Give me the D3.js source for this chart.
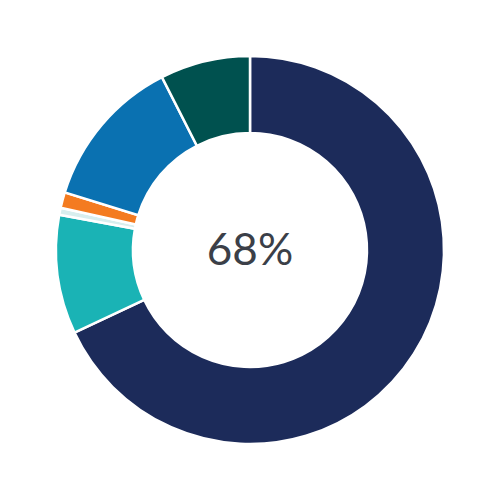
<!DOCTYPE html>
<html><head><meta charset="utf-8">
<script src="https://cdn.jsdelivr.net/npm/d3@7"></script>
<style>body{margin:0;background:#fff}</style></head>
<body><svg id="c" width="500" height="500"></svg>
<script>
const categories = ["A","B","C","D","E","F"];
const values = [68, 9.9, 0.6, 1.3, 12.7, 7.5];
const colors = ["#1c2b5a","#1ab3b5","#d8eeee","#f47b20","#0a71b1","#00514f"];
const centerLabel = "68%";
const svg = d3.select("#c");
const g = svg.append("g").attr("transform","translate(250,250)");
const pie = d3.pie().sort(null).value(d=>d.v);
const arc = d3.arc().innerRadius(117).outerRadius(194);
g.selectAll("path").data(pie(categories.map((c,i)=>({c,v:values[i]})))).join("path")
 .attr("d",arc).attr("fill",(d,i)=>colors[i]).attr("stroke","#fff").attr("stroke-width",2.5);
g.append("text").attr("text-anchor","middle").attr("dy","0.35em")
 .attr("font-family","Lato, sans-serif").attr("font-size",44).attr("fill","#3b3f48").text(centerLabel);
</script></body></html>
